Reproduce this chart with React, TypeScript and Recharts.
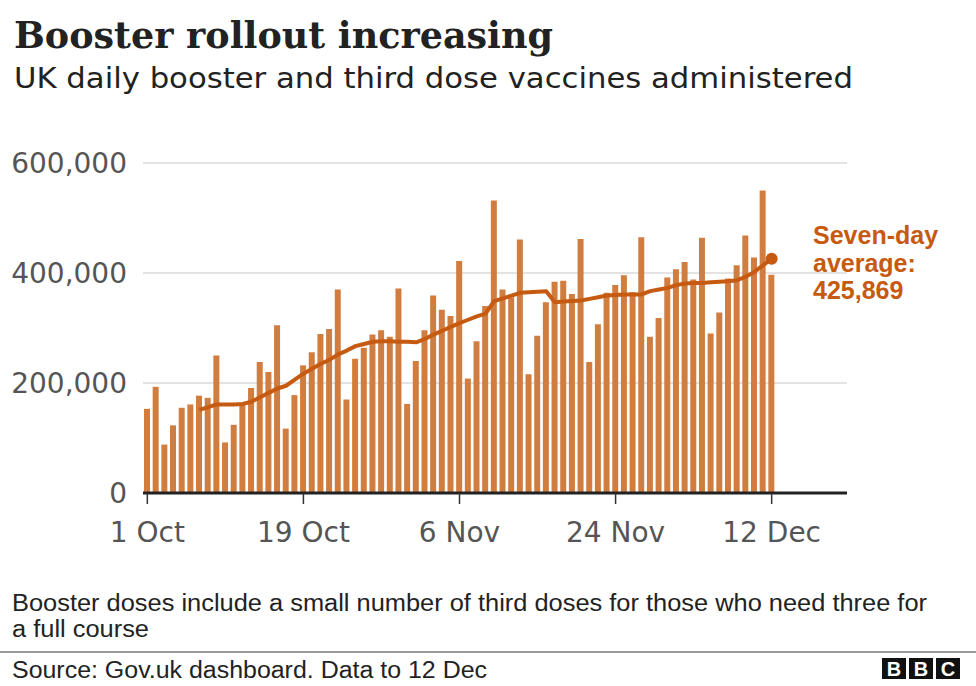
import { Bar, CartesianGrid, ComposedChart, Line, ReferenceDot, XAxis, YAxis } from "recharts";

const MONTHS = ["Jan", "Feb", "Mar", "Apr", "May", "Jun", "Jul", "Aug", "Sep", "Oct", "Nov", "Dec"];
const FIRST_DAY = Date.UTC(2021, 9, 1);

// Daily booster + third doses, 1 Oct to 12 Dec
const dailyDoses = [
  153000, 193000, 88000, 123000, 155000, 161000, 177000, 173000, 250000, 92000,
  124000, 161000, 191000, 238000, 220000, 305000, 117000, 178000, 232000, 256000,
  289000, 298000, 370000, 170000, 244000, 264000, 288000, 296000, 284000, 372000,
  162000, 240000, 296000, 359000, 333000, 322000, 422000, 208000, 276000, 340000,
  532000, 370000, 356000, 461000, 216000, 286000, 347000, 384000, 386000, 362000,
  462000, 238000, 307000, 364000, 378000, 396000, 365000, 465000, 284000, 318000,
  392000, 407000, 420000, 388000, 464000, 290000, 328000, 390000, 414000, 468000,
  428000, 550000, 397000,
];

// Rolling seven-day average (starts on day 7)
const sevenDayAvg = [
  null, null, null, null, null, null, 151000, 156000, 161000, 161000,
  161000, 162000, 166000, 174000, 182000, 190000, 195000, 206000, 217000, 226000,
  235000, 242000, 252000, 259000, 267000, 271000, 275000, 276000, 276000, 275000,
  275000, 274000, 280000, 288000, 295000, 302000, 309000, 315000, 321000, 326000,
  349000, 354000, 359000, 364000, 365000, 366000, 367000, 347000, 348000, 349000,
  350000, 353000, 356000, 359000, 360000, 361000, 361000, 361000, 367000, 370000,
  373000, 378000, 381000, 382000, 382000, 383000, 384000, 385000, 387000, 393000,
  402000, 414000, 425869,
];

const yTicks = [0, 200000, 400000, 600000];

const dayLabels = dailyDoses.map((_, i) => {
  const d = new Date(FIRST_DAY + i * 86400000);
  return `${d.getUTCDate()} ${MONTHS[d.getUTCMonth()]}`;
});

const rows = dayLabels.map((day, i) => ({ day, doses: dailyDoses[i], avg: sevenDayAvg[i] }));

const BAR_COLOUR = "#d17d40";
const LINE_COLOUR = "#c65a10";
const AXIS_FONT = "'DejaVu Sans', sans-serif";
const last = rows.length - 1;

export default function App() {
  return (
    <div style={{ position: "relative", width: 976, height: 686, background: "#fff", overflow: "hidden" }}>
      <style>{"body{margin:0}"}</style>
      <svg width={976} height={686} style={{ position: "absolute", left: 0, top: 0 }}>
        <text
          x={14}
          y={48}
          fontFamily="'DejaVu Serif', serif"
          fontWeight="bold"
          fontSize={37}
          fill="#222"
          textLength={539}
          lengthAdjust="spacingAndGlyphs"
        >
          Booster rollout increasing
        </text>
        <text x={14} y={88} fontFamily={AXIS_FONT} fontSize={29} fill="#222" textLength={839} lengthAdjust="spacingAndGlyphs">
          UK daily booster and third dose vaccines administered
        </text>
        <g fontFamily="'Liberation Sans', sans-serif" fontWeight="bold" fontSize={25} fill={LINE_COLOUR}>
          <text x={813} y={244}>Seven-day</text>
          <text x={813} y={272}>average:</text>
          <text x={813} y={299}>425,869</text>
        </g>
        <g fontFamily="'Liberation Sans', sans-serif" fontSize={23} fill="#222">
          <text x={12} y={611} textLength={915} lengthAdjust="spacingAndGlyphs">
            Booster doses include a small number of third doses for those who need three for
          </text>
          <text x={12} y={637} textLength={137} lengthAdjust="spacingAndGlyphs">
            a full course
          </text>
          <text x={12} y={678} textLength={475} lengthAdjust="spacingAndGlyphs">
            Source: Gov.uk dashboard. Data to 12 Dec
          </text>
        </g>
        <line x1={0} x2={976} y1={652} y2={652} stroke="#777" strokeWidth={1.5} />
        <g fontFamily="'Liberation Sans', sans-serif" fontWeight="bold" fontSize={20} fill="#fff" textAnchor="middle">
          {["B", "B", "C"].map((ch, i) => (
            <g key={i}>
              <rect x={882 + i * 27} y={658} width={24} height={21} fill="#111" />
              <text x={894 + i * 27} y={676}>{ch}</text>
            </g>
          ))}
        </g>
      </svg>
      <div style={{ position: "absolute", left: 0, top: 0 }}>
        <ComposedChart
          width={976}
          height={560}
          data={rows}
          margin={{ top: 163, right: 129, bottom: 27, left: 13 }}
          barSize={6}
        >
          <CartesianGrid vertical={false} stroke="#c8c8c8" strokeWidth={1.2} />
          <XAxis
            dataKey="day"
            interval={17}
            height={40}
            padding={{ left: 0, right: 71 }}
            tickSize={11}
            tickMargin={18}
            axisLine={{ stroke: "#222", strokeWidth: 3 }}
            tickLine={{ stroke: "#333", strokeWidth: 1.5 }}
            tick={{ fontSize: 28, fill: "#555", fontFamily: AXIS_FONT }}
          />
          <YAxis
            domain={[0, 600000]}
            ticks={yTicks}
            width={130}
            axisLine={false}
            tickLine={false}
            tickSize={0}
            tickMargin={16}
            tickFormatter={(v: number) => v.toLocaleString("en-GB")}
            tick={{ fontSize: 28, fill: "#555", fontFamily: AXIS_FONT }}
          />
          <Bar dataKey="doses" fill={BAR_COLOUR} isAnimationActive={false} />
          <Line
            type="linear"
            dataKey="avg"
            stroke={LINE_COLOUR}
            strokeWidth={4}
            strokeLinejoin="round"
            dot={false}
            activeDot={false}
            isAnimationActive={false}
          />
          <ReferenceDot x={dayLabels[last]} y={sevenDayAvg[last] as number} r={6} fill={LINE_COLOUR} stroke="none" />
        </ComposedChart>
      </div>
    </div>
  );
}
